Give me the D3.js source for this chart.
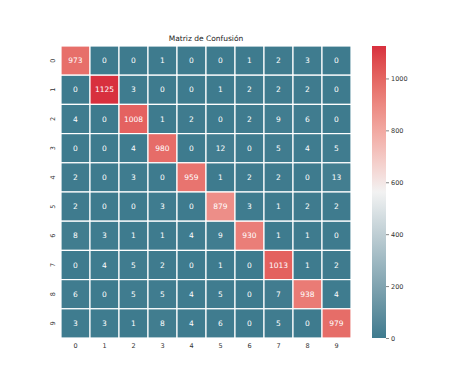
<!DOCTYPE html>
<html>
<head>
<meta charset="utf-8">
<script src="https://cdn.jsdelivr.net/npm/d3@7"></script>
<style>
  body { margin: 0; background: #fff; }
  text { font-family: "DejaVu Sans", sans-serif; }
</style>
</head>
<body>
<div id="chart"></div>
<script>
// ---------- data ----------
const labels = ['0', '1', '2', '3', '4', '5', '6', '7', '8', '9'];
const row0 = [973, 0, 0, 1, 0, 0, 1, 2, 3, 0];
const row1 = [0, 1125, 3, 0, 0, 1, 2, 2, 2, 0];
const row2 = [4, 0, 1008, 1, 2, 0, 2, 9, 6, 0];
const row3 = [0, 0, 4, 980, 0, 12, 0, 5, 4, 5];
const row4 = [2, 0, 3, 0, 959, 1, 2, 2, 0, 13];
const row5 = [2, 0, 0, 3, 0, 879, 3, 1, 2, 2];
const row6 = [8, 3, 1, 1, 4, 9, 930, 1, 1, 0];
const row7 = [0, 4, 5, 2, 0, 1, 0, 1013, 1, 2];
const row8 = [6, 0, 5, 5, 4, 5, 0, 7, 938, 4];
const row9 = [3, 3, 1, 8, 4, 6, 0, 5, 0, 979];
const matrix = [row0, row1, row2, row3, row4, row5, row6, row7, row8, row9];
const colorbarTicks = [0, 200, 400, 600, 800, 1000];

(function () {
  const width = 474, height = 387;
  const mLeft = 61, mTop = 46, mRight = 351, mBottom = 338;

  const svg = d3.select('#chart').append('svg')
    .attr('width', width).attr('height', height);

  const x = d3.scaleBand().domain(labels).range([mLeft, mRight]);
  const y = d3.scaleBand().domain(labels).range([mTop, mBottom]);

  const vmax = d3.max(matrix.flat());
  const color = d3.scaleLinear()
    .domain([0, vmax / 2, vmax])
    .range(['#3e7b8e', '#f2f2f2', '#d8303e'])
    .interpolate(d3.interpolateLab);

  // ---------- cells ----------
  const cells = [];
  matrix.forEach((row, i) => row.forEach((v, j) => cells.push({ r: labels[i], c: labels[j], v })));

  svg.append('g').selectAll('rect')
    .data(cells)
    .join('rect')
    .attr('x', d => x(d.c))
    .attr('y', d => y(d.r))
    .attr('width', x.bandwidth())
    .attr('height', y.bandwidth())
    .attr('fill', d => color(d.v))
    .attr('stroke', '#fff')
    .attr('stroke-width', 1.2);

  svg.append('g').selectAll('text')
    .data(cells)
    .join('text')
    .attr('x', d => x(d.c) + x.bandwidth() / 2)
    .attr('y', d => y(d.r) + y.bandwidth() / 2)
    .attr('dy', '0.35em')
    .attr('text-anchor', 'middle')
    .attr('font-size', 7.5)
    .attr('fill', '#fff')
    .text(d => d.v);

  // ---------- axes ----------
  svg.append('g').selectAll('text')
    .data(labels)
    .join('text')
    .attr('x', d => x(d) + x.bandwidth() / 2)
    .attr('y', mBottom + 10)
    .attr('text-anchor', 'middle')
    .attr('font-size', 6.5)
    .attr('fill', '#333')
    .text(d => d);

  svg.append('g').selectAll('text')
    .data(labels)
    .join('text')
    .attr('transform', d => `translate(${mLeft - 6},${y(d) + y.bandwidth() / 2}) rotate(-90)`)
    .attr('text-anchor', 'middle')
    .attr('font-size', 6.5)
    .attr('fill', '#333')
    .text(d => d);

  svg.append('text')
    .attr('x', (mLeft + mRight) / 2)
    .attr('y', mTop - 5)
    .attr('text-anchor', 'middle')
    .attr('font-size', 7.5)
    .attr('fill', '#222')
    .text('Matriz de Confusión');

  // ---------- colorbar ----------
  const cbX = 372, cbW = 14;
  const cbScale = d3.scaleLinear().domain([0, vmax]).range([mBottom, mTop]);
  const grad = svg.append('defs').append('linearGradient')
    .attr('id', 'cbgrad').attr('x1', 0).attr('y1', 1).attr('x2', 0).attr('y2', 0);
  d3.range(0, 1.0001, 0.05).forEach(t => {
    grad.append('stop').attr('offset', t).attr('stop-color', color(t * vmax));
  });
  svg.append('rect')
    .attr('x', cbX).attr('y', mTop)
    .attr('width', cbW).attr('height', mBottom - mTop)
    .attr('fill', 'url(#cbgrad)');

  const cbAxis = d3.axisRight(cbScale).tickValues(colorbarTicks)
    .tickFormat(d3.format('d')).tickSize(3).tickPadding(2);
  const cbG = svg.append('g')
    .attr('transform', `translate(${cbX + cbW},0)`)
    .call(cbAxis);
  cbG.select('.domain').remove();
  cbG.selectAll('line').attr('stroke', '#333').attr('stroke-width', 0.6);
  cbG.selectAll('text').attr('font-size', 6.5).attr('fill', '#333')
    .attr('font-family', '"DejaVu Sans", sans-serif');
})();
</script>
</body>
</html>
